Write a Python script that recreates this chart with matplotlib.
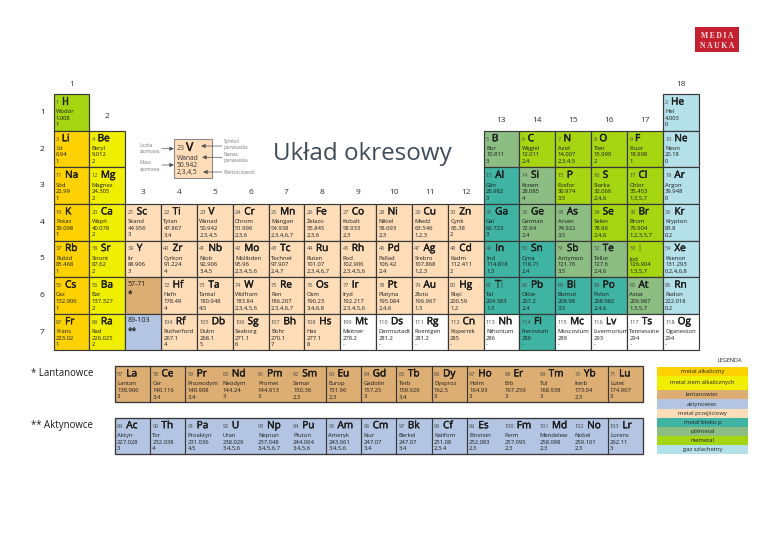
import matplotlib
matplotlib.use('Agg')
import matplotlib.pyplot as plt
from matplotlib.patches import Rectangle
import matplotlib.patheffects as pe

plt.rcParams['font.family'] = ['Open Sans', 'DejaVu Sans']

# elements in atomic order, 1..118
SYMBOLS = ['H','He','Li','Be','B','C','N','O','F','Ne','Na','Mg','Al','Si','P','S','Cl','Ar',
           'K','Ca','Sc','Ti','V','Cr','Mn','Fe','Co','Ni','Cu','Zn','Ga','Ge','As','Se','Br','Kr',
           'Rb','Sr','Y','Zr','Nb','Mo','Tc','Ru','Rh','Pd','Ag','Cd','In','Sn','Sb','Te','I','Xe',
           'Cs','Ba','La','Ce','Pr','Nd','Pm','Sm','Eu','Gd','Tb','Dy','Ho','Er','Tm','Yb','Lu',
           'Hf','Ta','W','Re','Os','Ir','Pt','Au','Hg','Tl','Pb','Bi','Po','At','Rn',
           'Fr','Ra','Ac','Th','Pa','U','Np','Pu','Am','Cm','Bk','Cf','Es','Fm','Md','No','Lr',
           'Rf','Db','Sg','Bh','Hs','Mt','Ds','Rg','Cn','Nh','Fl','Mc','Lv','Ts','Og']
NAMES = ['Wodór','Hel','Lit','Beryl','Bor','Węgiel','Azot','Tlen','Fluor','Neon','Sód','Magnez',
         'Glin','Krzem','Fosfor','Siarka','Chlor','Argon','Potas','Wapń','Skand','Tytan','Wanad',
         'Chrom','Mangan','Żelazo','Kobalt','Nikiel','Miedź','Cynk','Gal','German','Arsen','Selen',
         'Brom','Krypton','Rubid','Stront','Itr','Cyrkon','Niob','Molibden','Technet','Ruten','Rod',
         'Pallad','Srebro','Kadm','Ind','Cyna','Antymon','Tellur','Jod','Ksenon','Cez','Bar',
         'Lantan','Cer','Prazeodym','Neodym','Promet','Samar','Europ','Gadolin','Terb','Dysproz',
         'Holm','Erb','Tul','Iterb','Lutet','Hafn','Tantal','Wolfram','Ren','Osm','Iryd','Platyna',
         'Złoto','Rtęć','Tal','Ołów','Bizmut','Polon','Astat','Radon','Frans','Rad','Aktyn','Tor',
         'Proaktyn','Uran','Neptun','Pluton','Ameryk','Kiur','Berkel','Kaliforn','Einstein','Ferm',
         'Mendelew','Nobel','Lorens','Rutherford','Dubn','Seaborg','Bohr','Has','Meitner',
         'Darmsztadt','Roentgen','Kopernik','Nihonium','Flerovium','Moscovium','Livermorium',
         'Tennessine','Oganesson']
MASSES = ['1.008','4.003','6.94','9.012','10.811','12.011','14.007','15.999','18.998','20.18',
          '22.99','24.305','26.982','28.085','30.974','32.066','35.453','39.948','39.098','40.078',
          '44.956','47.867','50.942','51.996','54.938','55.845','58.933','58.693','63.546','65.38',
          '69.723','72.64','74.922','78.96','79.904','83.8','85.468','87.62','88.906','91.224',
          '92.906','95.96','97.907','101.07','102.906','106.42','107.868','112.411','114.818',
          '118.71','121.76','127.6','126.904','131.293','132.906','137.327','138.906','140.116',
          '140.908','144.24','144.913','150.36','151.96','157.25','158.926','162.5','164.93',
          '167.259','168.938','173.04','174.967','178.49','180.948','183.84','186.207','190.23',
          '192.217','195.084','196.967','200.59','204.383','207.2','208.98','208.982','209.987',
          '222.018','223.02','226.025','227.028','232.038','231.036','238.029','237.048','244.064',
          '243.061','247.07','247.07','251.08','252.083','257.095','258.098','259.101','262.11',
          '267.1','268.1','271.1','270.1','277.1','278.2','281.2','281.2','285','286','289','289',
          '293','294','294']
VALENCES = ['1','0','1','2','3','2,4','2,3,4,5','2','1','0','1','2','3','4','3,5','2,4,6','1,3,5,7',
            '0','1','2','3','3,4','2,3,4,5','2,3,6','2,3,4,6,7','2,3,6','2,3','2,3','1,2,3','2','3',
            '2,4','3,5','2,4,6','1,2,3,5,7','0,2','1','2','3','4','3,4,5','2,3,4,5,6','2,4,7',
            '2,3,4,6,7','2,3,4,5,6','2,4','1,2,3','2','1,3','2,4','3,5','2,4,6','1,3,5,7','0,2,4,6,8',
            '1','2','3','3,4','3,4','3','3','2,3','2,3','3','3,4','3','3','3','3','2,3','3','4','4,5',
            '2,3,4,5,6','2,3,4,6,7','3,4,6,8','2,3,4,5,6','2,4,6','1,3','1,2','1,3','2,4','3,5',
            '2,4,6','1,3,5,7','0,2','1','2','3','4','4,5','3,4,5,6','3,4,5,6,7','3,4,5,6','3,4,5,6',
            '3,4','3,4','2,3,4','2,3','2,3','2,3','2,3','3','4','5','6','7','8','-','-','-','-','-',
            '-','-','-','-','-']

ALKALI = [3, 11, 19, 37, 55, 87]
ALKALINE = [4, 12, 20, 38, 56, 88]
NONMETAL = [1, 6, 7, 8, 9, 15, 16, 17, 34, 35, 53]
NOBLE = [2, 10, 18, 36, 54, 86]
METALLOID = [5, 14, 32, 33, 51, 52, 85]
P_METAL = [13, 31, 49, 50, 81, 82, 83, 84, 114]
UNKNOWN = [109, 110, 111, 113, 115, 116, 117, 118]

GROUP_LABELS = [str(g) for g in range(1, 19)]
PERIOD_LABELS = [str(p) for p in range(1, 8)]
LEGEND_LABELS = ['metal alkaliczny', 'metal ziem alkalicznych', 'lantanowiec', 'aktynowiec',
                 'metal przejściowy', 'metal bloku p', 'półmetal', 'niemetal', 'gaz szlachetny']
LEGEND_KEYS = ['alkali', 'alkaline', 'lan', 'act', 'trans', 'pmetal', 'metalloid', 'nonmetal', 'noble']

COLORS = {'alkali': '#FDD200', 'alkaline': '#F1EF00', 'lan': '#DDAE73', 'act': '#B3C5E3',
          'trans': '#FFDDB9', 'pmetal': '#3FB4A2', 'metalloid': '#8CBE84', 'nonmetal': '#A6D512',
          'noble': '#B4E0EA', 'unknown': '#FFFFFF'}
EDGE = '#383838'
TXT = '#1c1c1c'
CW, CH = 35.84, 36.6
X0, Y0 = 53.5, 94.2
HEAVY = [pe.withStroke(linewidth=0.3, foreground=TXT)]


def kind_of(z):
    for ids, key in [(ALKALI, 'alkali'), (ALKALINE, 'alkaline'), (NONMETAL, 'nonmetal'), (NOBLE, 'noble'),
                     (METALLOID, 'metalloid'), (P_METAL, 'pmetal'), (UNKNOWN, 'unknown')]:
        if z in ids:
            return key
    if 57 <= z <= 71:
        return 'lan'
    if 89 <= z <= 103:
        return 'act'
    return 'trans'


def position(z):
    # (group, period) from the atomic number
    if z == 1:
        return 1, 1
    if z == 2:
        return 18, 1
    if z <= 4:
        return z - 2, 2
    if z <= 10:
        return z + 8, 2
    if z <= 12:
        return z - 10, 3
    if z <= 18:
        return z, 3
    if z <= 36:
        return z - 18, 4
    if z <= 54:
        return z - 36, 5
    if z <= 56:
        return z - 54, 6
    if z <= 86:
        return z - 68, 6
    if z <= 88:
        return z - 86, 7
    return z - 100, 7


def cell_text(ax, x, y, z):
    i = z - 1
    n = str(z)
    ax.text(x + 2.4, y + 9.8, n, fontsize=4.1, color='#4a4a4a', va='baseline', ha='left')
    ax.text(x + 5 + 3.3 * len(n), y + 10.4, SYMBOLS[i], fontsize=7.2, color=TXT,
            va='baseline', ha='left', path_effects=HEAVY)
    ax.text(x + 2.4, y + 19.2, NAMES[i], fontsize=4.2, color=TXT, va='baseline', ha='left')
    ax.text(x + 2.4, y + 25.7, MASSES[i], fontsize=4.25, color=TXT, va='baseline', ha='left')
    ax.text(x + 2.4, y + 32.3, VALENCES[i], fontsize=4.25, color=TXT, va='baseline', ha='left')


def draw_main(ax):
    for z in range(1, 119):
        if 57 <= z <= 71 or 89 <= z <= 103:
            continue
        g, p = position(z)
        x = X0 + (g - 1) * CW
        y = Y0 + (p - 1) * CH
        ax.add_patch(Rectangle((x, y), CW, CH, fc=COLORS[kind_of(z)], ec=EDGE, lw=0.85))
        cell_text(ax, x, y, z)
    # placeholder cells for the f-block
    for p, key, lab, star in [(6, 'lan', '57-71', '*'), (7, 'act', '89-103', '**')]:
        x = X0 + 2 * CW
        y = Y0 + (p - 1) * CH
        ax.add_patch(Rectangle((x, y), CW, CH, fc=COLORS[key], ec=EDGE, lw=0.85))
        ax.text(x + 2.6, y + 8.5, lab, fontsize=5, color=TXT, va='baseline')
        ax.text(x + 2.6, y + 19.5, star, fontsize=6, color=TXT, va='baseline', fontweight='bold')


def draw_fblock(ax, first, key, top, title):
    left, step, h = 114.7, 35.2, 36.4
    breaks = [1, 2, 6, 7, 8, 9, 10, 14]  # separators only at these cells
    for k in range(15):
        x = left + k * step
        ax.add_patch(Rectangle((x, top), step, h, fc=COLORS[key], ec='none'))
        cell_text(ax, x, top, first + k)
    for k in breaks:
        x = left + k * step
        ax.plot([x, x], [top, top + h], color=EDGE, lw=0.85)
    ax.add_patch(Rectangle((left, top), 15 * step, h, fc='none', ec=EDGE, lw=0.95))
    ax.text(31, top + 10.5, title, fontsize=6.9, color=TXT, va='baseline', ha='left')


def draw_sample(ax):
    ax.add_patch(Rectangle((174, 139), 38.3, 39.3, fc=COLORS['trans'], ec='#8a8a8a', lw=0.8))
    ax.text(176.5, 150.5, '23', fontsize=5, color='#4a4a4a', va='baseline')
    ax.text(186, 151, 'V', fontsize=8.8, color=TXT, va='baseline', path_effects=HEAVY)
    ax.text(176.5, 160, NAMES[22], fontsize=4.9, color='#333333', va='baseline')
    ax.text(176.5, 167, MASSES[22], fontsize=4.9, color='#333333', va='baseline')
    ax.text(176.5, 174.2, VALENCES[22], fontsize=4.9, color='#333333', va='baseline')
    grey = '#7a7a7a'
    for lab, yt, ya in [('Liczba\natomowa', 148.7, 148.7), ('Masa\natomowa', 166, 165)]:
        ax.text(140, yt, lab, fontsize=3.3, color=grey, va='center', linespacing=1.3)
        ax.annotate('', xy=(174, ya), xytext=(162, ya),
                    arrowprops=dict(arrowstyle='-|>,head_width=0.12,head_length=0.25', color='#555555', lw=0.5, shrinkA=0, shrinkB=0))
    for lab, yt, ya, tip in [('Symbol\npierwiastka', 144.7, 146, 201), ('Nazwa\npierwiastka', 157.7, 157.3, 202),
                             ('Wartościowość', 172, 172, 203)]:
        ax.text(223.5, yt, lab, fontsize=3.3, color=grey, va='center', linespacing=1.3)
        ax.annotate('', xy=(tip, ya), xytext=(222, ya),
                    arrowprops=dict(arrowstyle='-|>,head_width=0.12,head_length=0.25', color='#555555', lw=0.5, shrinkA=0, shrinkB=0))


def draw_legend(ax):
    edges = [366.7, 376, 390, 399.3, 408.7, 417.7, 427, 436, 445.3, 454.3]
    ax.text(730, 360.3, 'LEGENDA', fontsize=4, color=TXT, ha='center', va='center')
    for i, (lab, key) in enumerate(zip(LEGEND_LABELS, LEGEND_KEYS)):
        y0, y1 = edges[i], edges[i + 1]
        ax.add_patch(Rectangle((657, y0), 91, y1 - y0, fc=COLORS[key], ec='none'))
        ax.text(702.5, (y0 + y1) / 2 + 1.6 - (1 if i == 1 else 0), lab, fontsize=4.2, color='#222222',
                ha='center', va='baseline')


def main():
    fig = plt.figure(figsize=(7.68, 5.43), dpi=100)
    ax = fig.add_axes([0, 0, 1, 1])
    ax.set_xlim(0, 768)
    ax.set_ylim(543, 0)
    ax.axis('off')

    draw_main(ax)
    draw_fblock(ax, 57, 'lan', 366, '* Lantanowce')
    draw_fblock(ax, 89, 'act', 417.8, '** Aktynowce')
    draw_sample(ax)
    draw_legend(ax)

    # group and period numbers
    for i, lab in enumerate(GROUP_LABELS):
        g = i + 1
        y = 84 if g in (1, 18) else 116 if g == 2 else 120 if g >= 13 else 192
        ax.text(X0 + (g - 0.5) * CW, y, lab, fontsize=6, color='#333333', ha='center', va='center')
    for i, lab in enumerate(PERIOD_LABELS):
        ax.text(42.3, Y0 + (i + 0.5) * CH, lab, fontsize=6, color='#222222', ha='center', va='center')

    ax.text(273, 160, 'Układ okresowy', fontsize=17.4, color='#3E4C5A', ha='left', va='baseline')

    # logo
    ax.add_patch(Rectangle((695, 27), 44, 25, fc='#C5202F', ec='none'))
    ax.text(717, 37.8, 'M\u2009E\u2009D\u2009I\u2009A', fontsize=5.6, fontweight='bold', family='Liberation Serif',
            color='#F6DDE0', ha='center', va='baseline')
    ax.text(717, 47.5, 'N\u2009A\u2009U\u2009K\u2009A', fontsize=5.6, fontweight='bold', family='Liberation Serif',
            color='#F6DDE0', ha='center', va='baseline')

    fig.savefig('out.png', dpi=100)
    plt.close(fig)


if __name__ == '__main__':
    main()
